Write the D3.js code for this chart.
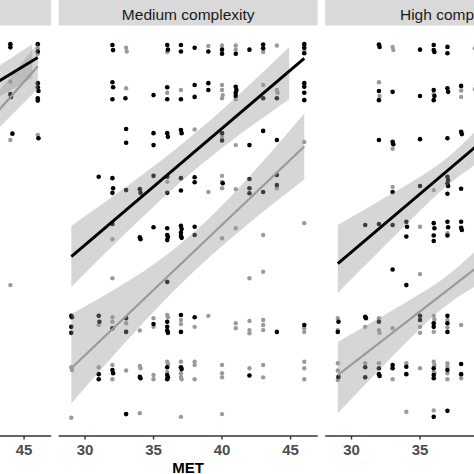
<!DOCTYPE html>
<html>
<head>
<meta charset="utf-8">
<script src="https://cdn.jsdelivr.net/npm/d3@7"></script>
<style>
  body { margin: 0; background: #fff; }
  svg { display: block; font-family: "Liberation Sans", Arial, sans-serif; }
</style>
</head>
<body>
<script>
// facet titles and x ticks
var panelNames = ["Low complexity", "Medium complexity", "High complexity"],
    xTicks = [30, 35, 40, 45];

// jittered points [MET, score]
var lowBlack = [[44, 9.08], [44, 9.01], [46, 9.08], [46, 8.92], [44, 7.99], [44.05, 7.93],
  [46, 8.23], [46, 8.14], [46.05, 8.06], [46, 7.9], [46, 7.85], [44.15, 7.13], [46.05, 7.03]];
var lowGrey = [[46, 8.99], [46, 8.87], [44, 8.26], [44, 6.99], [46, 7.1], [44, 3.83]];

var medBlack = [[32, 9.06], [32.05, 8.95], [36, 9.06], [36.05, 8.96], [37, 9.06], [37, 8.92], [38, 9.0],
  [39, 8.92], [40, 8.96], [40, 8.87], [41, 8.87], [42, 8.96], [43, 9.07], [43, 8.99], [46, 9.08], [46, 9.0], [46, 8.88],
  [32, 8.25], [32.05, 8.14], [32, 7.88], [32.95, 7.9], [35, 7.97], [36, 8.14], [36, 7.88], [37, 7.88], [38, 8.19],
  [38, 7.93], [39, 8.23], [39, 8.08], [41, 8.15], [41.05, 8.08], [41, 8.02], [41, 7.95], [43, 7.9], [44, 7.9],
  [46, 8.23], [46, 8.15], [46, 8.02], [46, 7.86],
  [33, 7.23], [33, 6.93], [35, 7.14], [35, 6.88], [36, 7.14], [36.05, 7.06], [37, 7.21], [37.05, 7.14],
  [40, 7.14], [40, 6.98], [42, 6.88], [43, 7.19], [44, 6.99],
  [31, 6.19], [32, 6.16], [32.05, 5.94], [32, 5.84], [33, 5.9], [34, 5.92], [34.05, 5.84], [35, 6.21], [36, 6.19],
  [36, 5.84], [37, 6.16], [37, 5.89], [38, 6.18], [38, 6.07], [40.05, 6.05], [42, 6.14], [42, 5.94], [42, 5.83],
  [43, 5.86], [44, 6.23], [44, 6.01],
  [32, 5.16], [34, 4.87], [34.05, 4.83], [35, 5.09], [36, 5.07], [36, 4.92], [36.05, 4.88], [36, 4.81],
  [37, 5.12], [37.05, 5.05], [37, 4.97], [37, 4.9], [37.05, 4.86], [38, 5.1], [38, 4.92],
  [36, 3.9],
  [29, 3.16], [29.05, 3.13], [29, 2.92], [29, 2.79], [31, 3.16], [31.05, 3.03], [32, 2.89], [33, 3.11], [33, 2.81],
  [35, 2.98], [36, 3.03], [36, 2.92], [36, 2.84], [36.05, 2.79], [37, 3.18], [37, 2.81], [38, 3.13], [44, 2.81], [46, 2.96],
  [31, 1.89], [31, 1.78], [32, 1.98], [32.05, 1.91], [34, 1.83], [34.05, 1.8], [36, 2.04], [36, 1.87], [36.05, 1.82],
  [36, 1.78], [37, 2.04], [37.05, 2.0], [42, 1.86],
  [33, 1.02]];
var medGrey = [[33, 9.0], [33.05, 8.92], [36, 8.91], [39, 9.04], [40, 9.05], [41, 9.05], [41, 8.96], [43, 8.91],
  [44, 9.05], [46, 8.94],
  [33, 8.12], [36, 8.02], [37, 8.08], [40, 8.19], [40, 8.08], [40.05, 7.97], [40, 7.9], [41, 7.88], [43, 8.19],
  [44, 8.08], [44.05, 8.02],
  [38, 7.22], [40, 7.06], [41, 6.88], [46, 6.95],
  [36, 6.08], [39, 5.86], [40, 6.21], [40, 6.08], [40, 5.94], [41, 5.92], [44, 5.94],
  [32, 4.83], [40, 4.85], [41, 5.07], [43, 4.92], [46, 5.18],
  [32, 3.98], [42, 3.98], [43, 4.12],
  [31, 2.96], [32, 3.13], [32, 3.03], [33, 3.0], [34, 2.84], [35, 3.11], [35, 2.92], [36, 3.18], [36.05, 3.13],
  [37, 3.07], [37, 2.98], [38, 2.92], [39, 3.16], [41, 3.0], [41, 2.89], [42, 3.05], [42, 2.85], [42, 2.78],
  [43, 3.07], [43, 2.96], [43, 2.85], [46, 2.89], [46, 2.81],
  [29, 2.04], [29.05, 1.98], [31, 2.04], [32, 2.09], [32, 1.78], [33, 1.97], [34, 2.07], [34.05, 2.02], [35, 1.87],
  [35, 1.78], [36, 2.16], [36.05, 2.11], [36, 1.94], [37, 2.16], [37, 1.91], [37, 1.83], [37.05, 1.78], [38, 2.16],
  [38, 2.09], [38, 1.78], [40, 2.09], [40, 1.91], [40, 1.82], [42, 2.02], [43, 2.09], [43, 1.82], [46, 2.16],
  [46, 2.02], [46, 1.78],
  [29, 0.94], [34, 1.04], [37, 0.96], [40, 1.02]];

var highBlack = [[32, 9.07], [32.05, 9.02], [35, 8.96], [36, 9.06], [36, 8.95], [36.05, 8.91], [37, 9.02], [37, 8.88],
  [32, 8.06], [32, 7.86], [33, 8.04], [35, 7.95], [36, 8.08], [36.05, 7.95], [36, 7.86], [37, 8.12], [37.05, 8.04],
  [38, 8.17],
  [32, 6.99], [33, 6.95], [33.05, 6.9], [35, 7.01], [37, 7.03], [38, 7.17], [38.05, 7.12],
  [33, 5.86], [35, 5.99], [37, 6.19], [37.05, 6.12], [37, 6.05], [37.05, 5.99], [37, 5.82], [38, 5.93],
  [31, 5.14], [32, 5.16], [33, 5.14], [34, 5.21], [34.05, 5.1], [34, 4.89], [36, 5.18], [36.05, 5.07], [36, 4.91],
  [36, 4.79], [37, 5.21], [37.05, 5.09], [37, 4.91], [38, 5.21], [38, 5.08], [38.05, 5.03],
  [33, 4.17], [34, 3.83],
  [29.05, 3.03], [29, 2.81], [31, 3.14], [31.05, 3.11], [32, 3.03], [35, 3.16], [35, 3.07], [36, 3.0], [36, 2.92],
  [37, 3.16], [37, 3.0], [37, 2.81],
  [29.05, 1.83], [31, 2.04], [31, 1.82], [32, 2.02], [32, 1.89], [32.05, 1.85], [33, 2.09], [33, 2.02], [34, 2.05],
  [34, 1.89], [36, 2.02], [36, 1.87], [36, 1.8], [37, 1.98], [38, 2.11], [38, 1.89],
  [36, 0.96], [37, 1.09]];
var highGrey = [[33, 9.02], [33.05, 8.95], [39, 8.99],
  [32, 8.25], [32.05, 7.95], [36, 8.0], [38, 8.07], [38, 7.93], [39, 8.1],
  [33, 6.8], [33, 5.97], [36, 5.9], [35, 5.1], [37, 4.96], [35, 4.07],
  [29, 3.11], [29, 2.85], [31, 2.92], [32, 3.11], [32, 2.85], [32.05, 2.79], [33, 2.89], [35, 2.92], [35, 2.79],
  [36, 3.16], [36.05, 3.08], [36, 2.81], [37, 3.07], [37, 2.91], [38, 2.96],
  [29, 2.13], [29, 1.97], [29, 1.76], [31, 2.13], [32, 2.13], [33, 1.78], [34, 2.13], [35, 2.02], [36, 2.16],
  [36.05, 2.09], [36, 1.94], [36.05, 1.91], [37, 2.13], [37, 2.05], [37, 1.91], [37, 1.78], [38, 1.8],
  [34, 1.07], [36, 1.1]];

// smooth fits: line ends [MET, fit] and bands [MET, lower, upper]
var lowBlackLine = [[29, 5.69], [46, 8.79]],
    lowBlackBand = [[29, 4.9, 6.5], [37.5, 6.88, 7.6], [45.6, 8.34, 9.08]],
    lowGreyLine = [[29, 2.85], [46, 8.6]],
    lowGreyBand = [[29, 2.0, 3.7], [37.5, 5.4, 6.1], [46, 8.1, 9.1]];
var medBlackLine = [[29, 4.45], [46, 8.77]],
    medBlackBand = [[29, 3.79, 5.12], [37.5, 6.21, 7.01], [44.9, 7.88, 9.02]],
    medGreyLine = [[29, 2.02], [46, 6.85]],
    medGreyBand = [[29, 1.25, 3.2], [37.5, 4.0, 4.86], [46, 6.13, 7.57]];
var highBlackLine = [[29, 4.3], [46, 8.6]],
    highBlackBand = [[29, 3.66, 5.14], [35, 5.45, 6.19], [39, 6.45, 7.17], [46, 7.8, 9.4]],
    highGreyLine = [[29, 1.87], [46, 5.8]],
    highGreyBand = [[29, 1.04, 2.59], [35, 2.88, 3.64], [39, 3.8, 4.56], [46, 5.0, 6.6]];

var panelData = [
  {black: lowBlack, grey: lowGrey, bl: lowBlackLine, bb: lowBlackBand, gl: lowGreyLine, gb: lowGreyBand},
  {black: medBlack, grey: medGrey, bl: medBlackLine, bb: medBlackBand, gl: medGreyLine, gb: medGreyBand},
  {black: highBlack, grey: highGrey, bl: highBlackLine, bb: highBlackBand, gl: highGreyLine, gb: highGreyBand}
];

var width = 474, height = 474,
    panelW = 259, gap = 7.5, midX = 58.7,
    panelTop = 26, axisY = 436;

var svg = d3.select("body").append("svg").attr("width", width).attr("height", height);

var y = d3.scaleLinear().domain([1, 9]).range([415, 47.8]);

// the picture is a crop of a wider figure: only texts that start inside it are drawn
function inView(cx, halfW) { return cx - halfW >= 0 && cx + halfW <= width + halfW; }

panelData.forEach(function (p, i) {
  var x0 = midX + (i - 1) * (panelW + gap);
  var x = d3.scaleLinear().domain([28.08, 46.98]).range([x0, x0 + panelW]);

  svg.append("clipPath").attr("id", "clip" + i)
    .append("rect").attr("x", x0).attr("y", panelTop).attr("width", panelW).attr("height", axisY - panelTop);

  // strip
  svg.append("rect").attr("x", x0).attr("y", -10).attr("width", panelW).attr("height", 35.5).attr("fill", "#d9d9d9");
  if (inView(x0 + panelW / 2, 55)) {
    svg.append("text").attr("x", x0 + panelW / 2).attr("y", 19.5).attr("text-anchor", "middle")
      .attr("font-size", 15.5).attr("fill", "#1a1a1a").text(panelNames[i]);
  }

  var g = svg.append("g").attr("clip-path", "url(#clip" + i + ")");

  g.selectAll("circle.grey").data(p.grey).enter().append("circle").attr("class", "grey")
    .attr("cx", function (d) { return x(d[0]); }).attr("cy", function (d) { return y(d[1]); })
    .attr("r", 2.2).attr("fill", "#9a9a9a");
  g.selectAll("circle.black").data(p.black).enter().append("circle").attr("class", "black")
    .attr("cx", function (d) { return x(d[0]); }).attr("cy", function (d) { return y(d[1]); })
    .attr("r", 2.3).attr("fill", "#000");

  var band = d3.area().curve(d3.curveNatural)
    .x(function (d) { return x(d[0]); })
    .y0(function (d) { return y(d[1]); })
    .y1(function (d) { return y(d[2]); });
  var line = d3.line().x(function (d) { return x(d[0]); }).y(function (d) { return y(d[1]); });

  g.append("path").attr("d", band(p.bb)).attr("fill", "#999").attr("fill-opacity", 0.4);
  g.append("path").attr("d", band(p.gb)).attr("fill", "#999").attr("fill-opacity", 0.4);
  g.append("path").attr("d", line(p.gl)).attr("stroke", "#9a9a9a").attr("stroke-width", 2.2).attr("fill", "none");
  g.append("path").attr("d", line(p.bl)).attr("stroke", "#000").attr("stroke-width", 3).attr("fill", "none");

  // x axis
  var ax = svg.append("g").attr("transform", "translate(0," + axisY + ")");
  ax.append("line").attr("x1", x0).attr("x2", x0 + panelW).attr("stroke", "#333").attr("stroke-width", 1.6);
  xTicks.forEach(function (t) {
    ax.append("line").attr("x1", x(t)).attr("x2", x(t)).attr("y1", 0).attr("y2", 3.5)
      .attr("stroke", "#333").attr("stroke-width", 1.4);
    if (inView(x(t), 9)) {
      ax.append("text").attr("x", x(t)).attr("y", 18.5).attr("text-anchor", "middle")
        .attr("font-size", 15).attr("font-weight", "bold").attr("fill", "#4d4d4d").text(t);
    }
  });
});

svg.append("text").attr("x", midX + panelW / 2).attr("y", 472.5).attr("text-anchor", "middle")
  .attr("font-size", 15).attr("font-weight", "bold").attr("fill", "#000").text("MET");
</script>
</body>
</html>
